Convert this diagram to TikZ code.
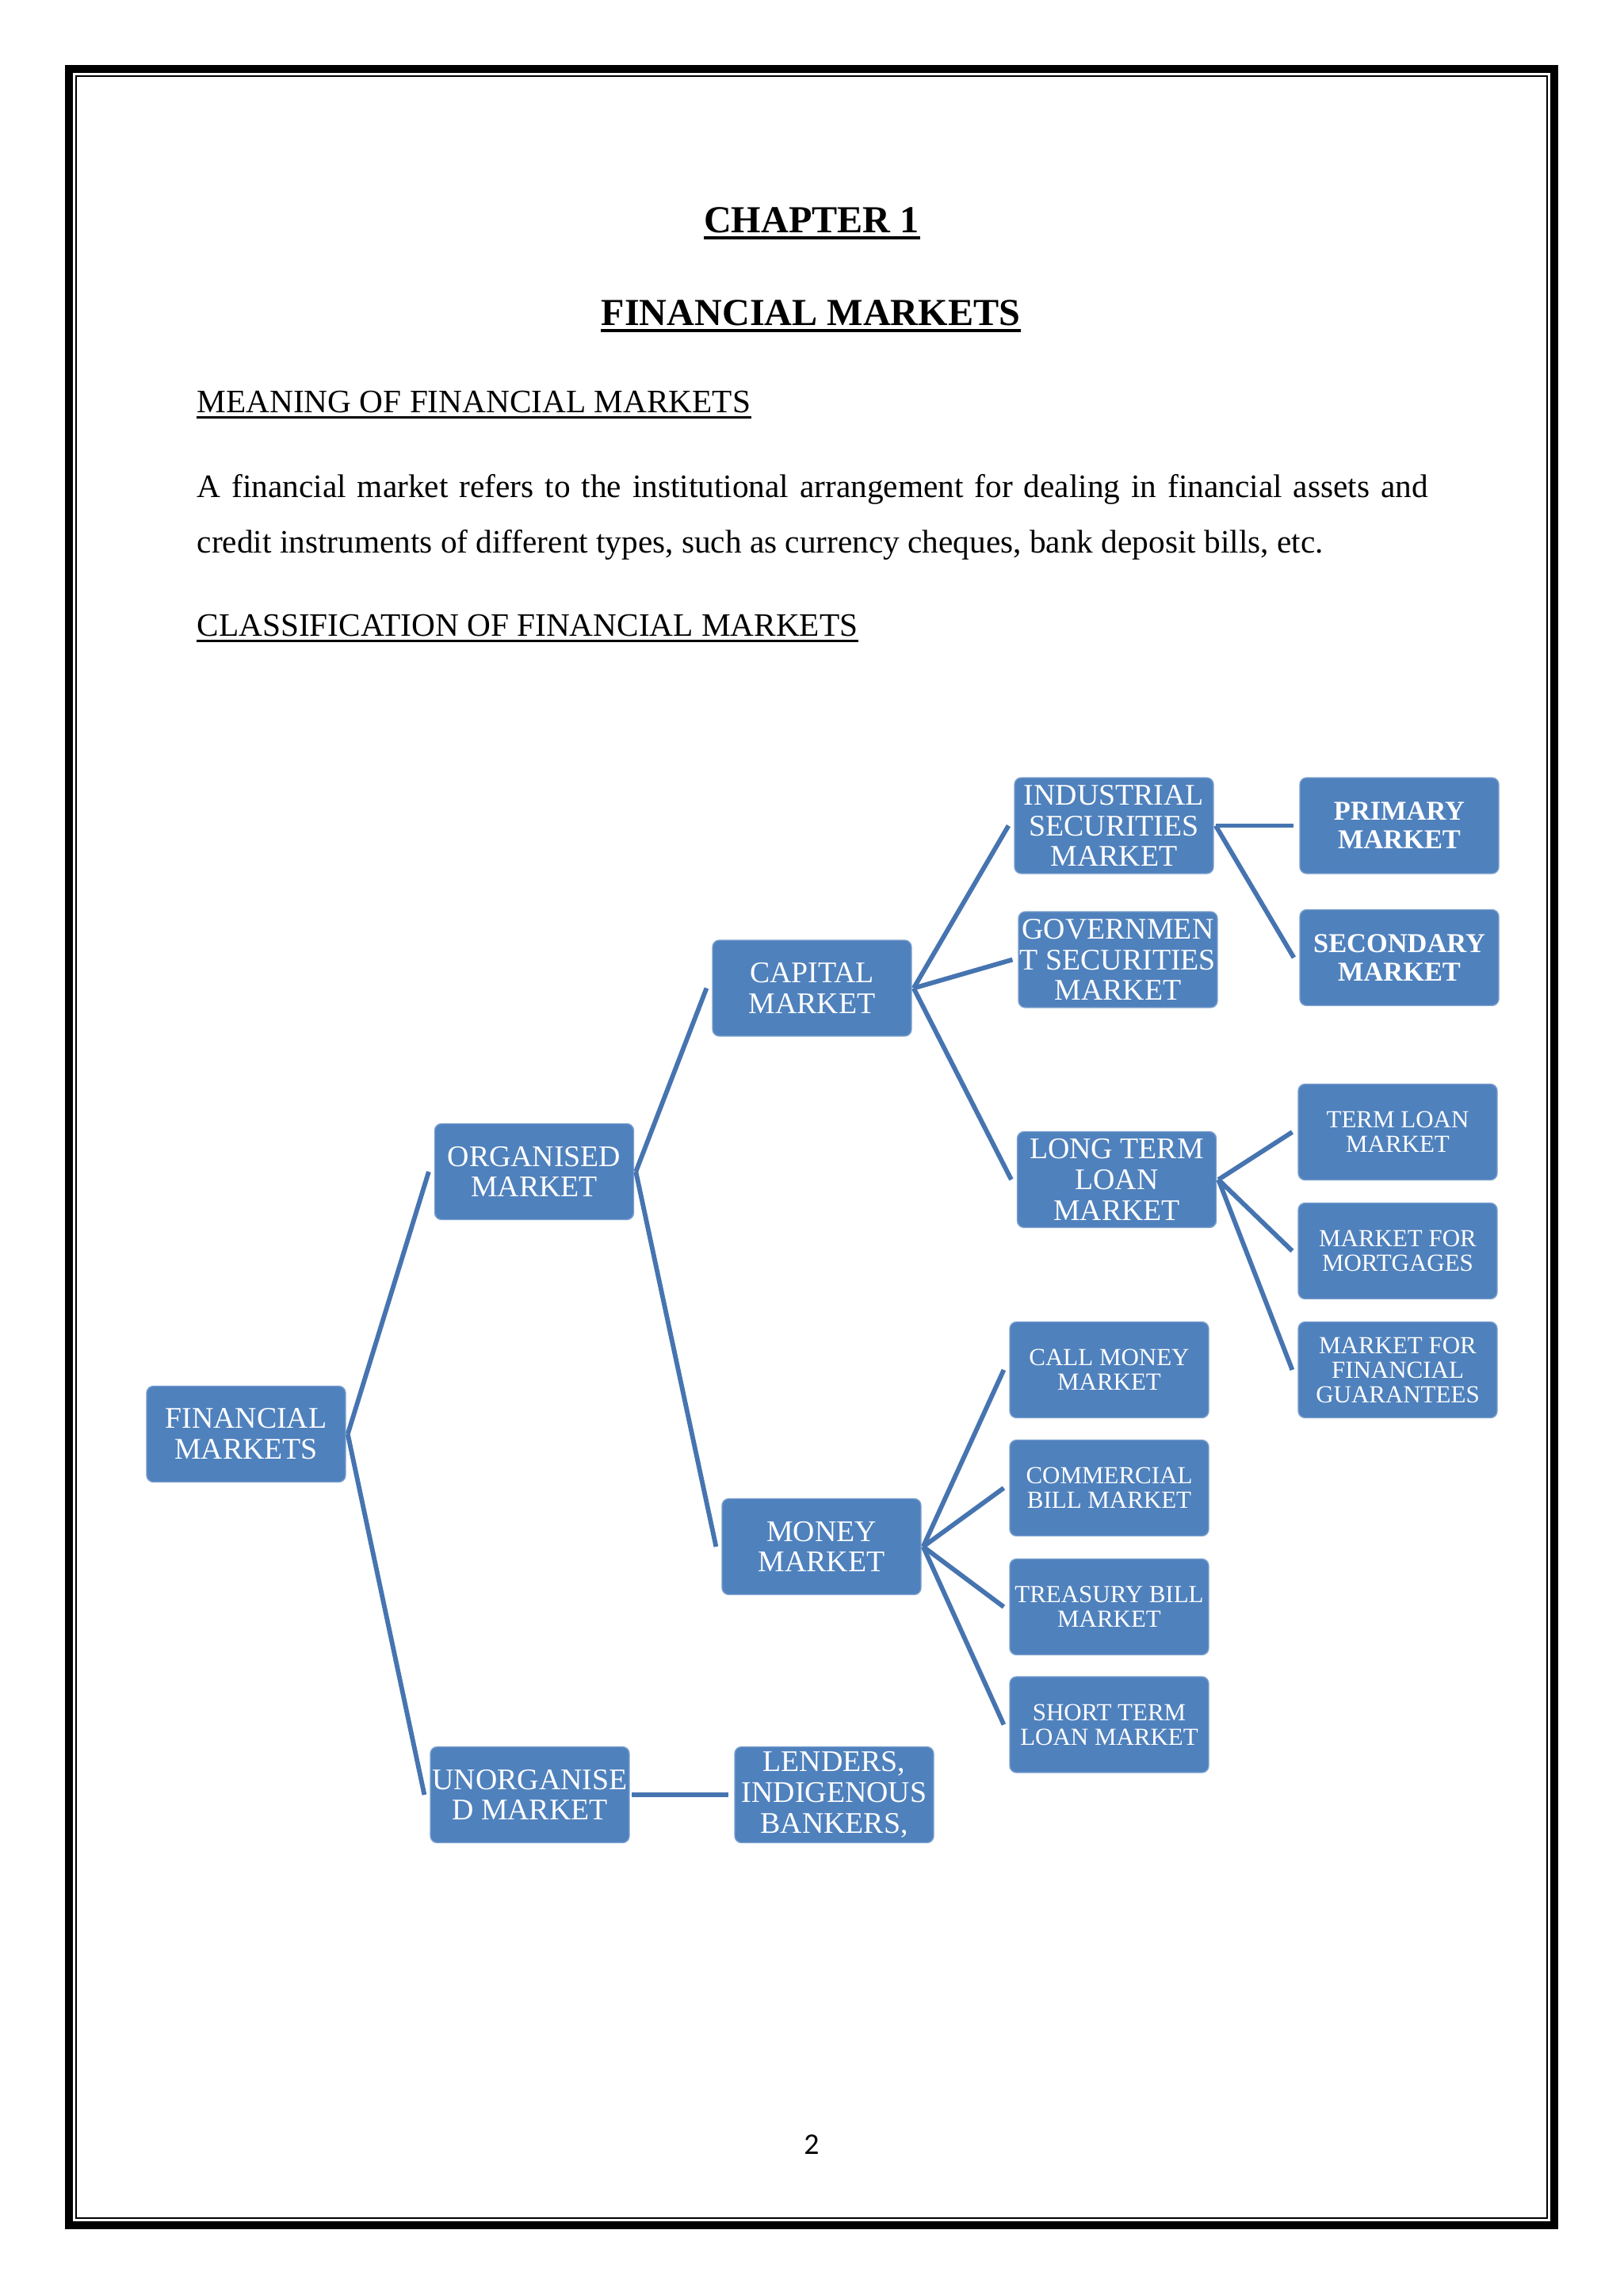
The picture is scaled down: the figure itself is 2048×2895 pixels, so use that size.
\documentclass[tikz,border=0pt]{standalone}
\usepackage{fontspec}
\setmainfont{Liberation Serif}
\newfontfamily\calibrifont{Carlito}
\definecolor{boxblue}{HTML}{4F81BD}
\definecolor{lineblue}{HTML}{4674B0}
\begin{document}
\begin{tikzpicture}[x=0.29066pt,y=-0.29066pt,
  box/.style={rectangle, rounded corners=2.5pt, fill=boxblue, draw=boxblue!75!white, line width=0.4pt,
    text=white, align=center, minimum width=72.96pt, minimum height=35.17pt, inner sep=0pt,
    font=\fontsize{11}{11.3}\selectfont},
  smallbox/.style={box, font=\fontsize{9}{9}\selectfont},
  boldbox/.style={box, font=\fontsize{10}{10.4}\selectfont\bfseries},
  conn/.style={draw=lineblue, line width=1.7pt},
  plain/.style={inner sep=0pt, font=\fontsize{12}{14}\selectfont},
  head/.style={inner sep=0pt, anchor=base, font=\fontsize{14}{16}\selectfont\bfseries}]
\useasboundingbox (0,0) rectangle (2048,2895);
% page frame
\draw[line width=2.9pt] (87,87) rectangle (1961,2807);
\draw[line width=0.73pt] (96,96) rectangle (1952,2798);
% headings
\node[head] (ch) at (1024,293) {CHAPTER 1};
\draw[line width=1.2pt] ([yshift=-2pt]ch.base west) -- ([yshift=-2pt]ch.base east);
\node[head] (fmh) at (1023,410) {FINANCIAL MARKETS};
\draw[line width=1.2pt] ([yshift=-2pt]fmh.base west) -- ([yshift=-2pt]fmh.base east);
\node[plain, anchor=base west] (mean) at (248,520) {MEANING OF FINANCIAL MARKETS};
\draw[line width=0.8pt] ([yshift=-1.8pt]mean.base west) -- ([yshift=-1.8pt]mean.base east);
\node[plain, anchor=base west] (p1) at (248,627) {\hbox to 451.4pt{A financial market refers to the institutional arrangement for dealing in financial assets and}};
\node[plain, anchor=base west] (p2) at (248,697) {credit instruments of different types, such as currency cheques, bank deposit bills, etc.};
\node[plain, anchor=base west] (cls) at (248,802) {CLASSIFICATION OF FINANCIAL MARKETS};
\draw[line width=0.8pt] ([yshift=-1.8pt]cls.base west) -- ([yshift=-1.8pt]cls.base east);
% boxes
\node[box] (fm) at (310.5,1809) {FINANCIAL\\MARKETS};
\node[box] (org) at (674,1478) {ORGANISED\\MARKET};
\node[box] (unorg) at (668.5,2264) {UNORGANISE\\D MARKET};
\node[box] (lend) at (1052.5,2264) {LENDERS,\\INDIGENOUS\\BANKERS,};
\node[box] (cap) at (1024.5,1246.5) {CAPITAL\\MARKET};
\node[box] (money) at (1036.5,1951) {MONEY\\MARKET};
\node[box] (ind) at (1405.5,1041.5) {INDUSTRIAL\\SECURITIES\\MARKET};
\node[box] (gov) at (1410.5,1210.5) {GOVERNMEN\\T SECURITIES\\MARKET};
\node[box] (long) at (1409,1488) {LONG TERM\\LOAN\\MARKET};
\node[boldbox] (prim) at (1765.5,1041.5) {PRIMARY\\MARKET};
\node[boldbox] (sec) at (1765.5,1208) {SECONDARY\\MARKET};
\node[smallbox] (term) at (1763.5,1428) {TERM LOAN\\MARKET};
\node[smallbox] (mort) at (1763.5,1578) {MARKET FOR\\MORTGAGES};
\node[smallbox] (guar) at (1763.5,1728) {MARKET FOR\\FINANCIAL\\GUARANTEES};
\node[smallbox] (call) at (1399.5,1728) {CALL MONEY\\MARKET};
\node[smallbox] (comm) at (1399.5,1877) {COMMERCIAL\\BILL MARKET};
\node[smallbox] (trea) at (1399.5,2027) {TREASURY BILL\\MARKET};
\node[smallbox] (short) at (1399.5,2175.5) {SHORT TERM\\LOAN MARKET};
% connectors
\foreach \p/\c in {fm/org, fm/unorg, unorg/lend, org/cap, org/money, cap/ind, cap/gov, cap/long,
  ind/prim, ind/sec, long/term, long/mort, long/guar, money/call, money/comm, money/trea, money/short}
  \draw[conn] ([xshift=0.6pt]\p.east) -- ([xshift=-2pt]\c.west);
% page number
\node[inner sep=0pt, anchor=base, font=\calibrifont\fontsize{11}{13}\selectfont] (pg) at (1024,2717) {2};
\end{tikzpicture}
\end{document}
